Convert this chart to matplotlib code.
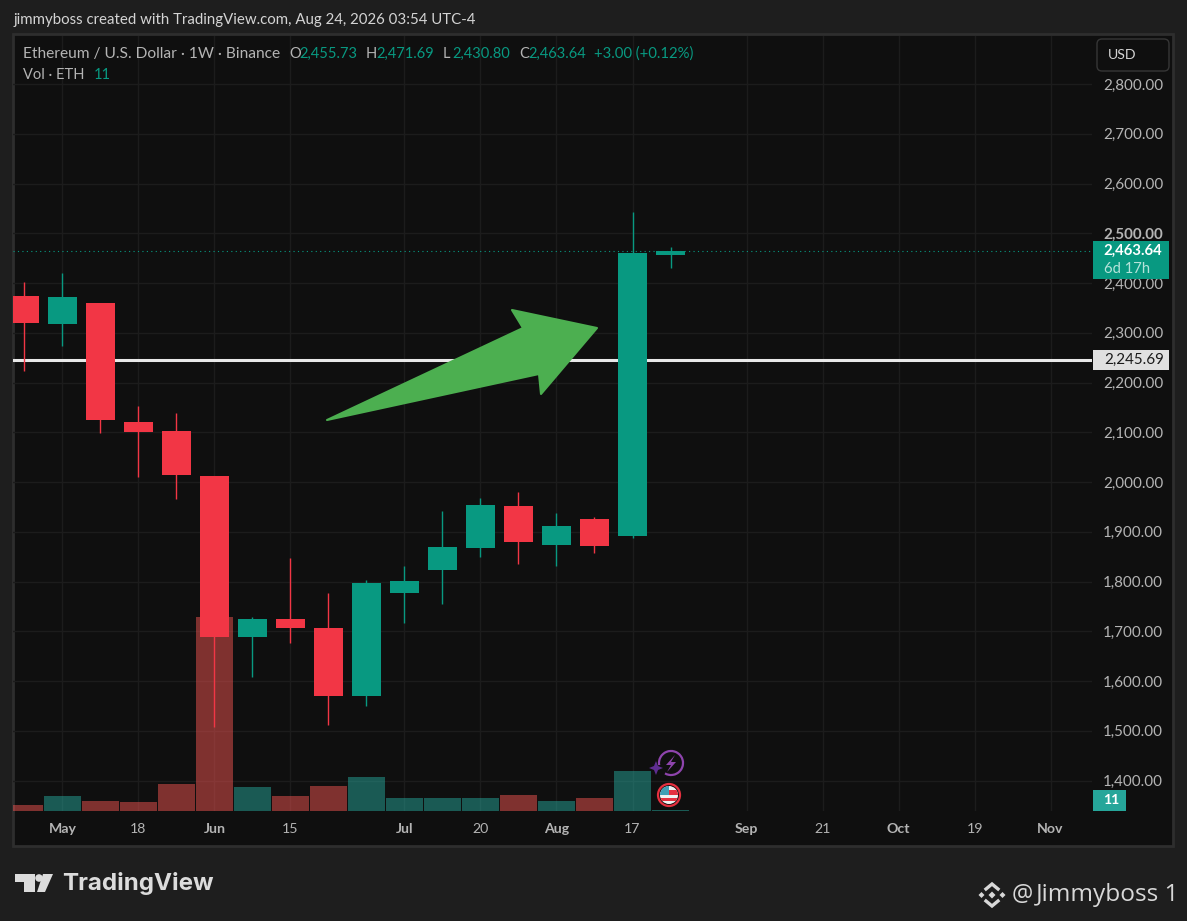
#!/usr/bin/env python3
import matplotlib
matplotlib.use("Agg")
import matplotlib.pyplot as plt
from matplotlib.patches import Rectangle, Circle, Polygon, FancyBboxPatch, Arc
from matplotlib.transforms import ScaledTranslation

plt.rcParams["font.family"] = ["Lato", "DejaVu Sans"]

# weekly candles, oldest first (first one is the week before May)
week_pos = list(range(-1, 17))
opens = [2374, 2318, 2360, 2121, 2103, 2012, 1688, 1725, 1707, 1570, 1777, 1823, 1867, 1952, 1873, 1926, 1891, 2455.73]
highs = [2402, 2420, 2360, 2153, 2139, 2012, 1729, 1847, 1777, 1803, 1831, 1942, 1968, 1980, 1938, 1930, 2543, 2471.69]
lows = [2223, 2273, 2098, 2010, 1966, 1508, 1608, 1676, 1512, 1550, 1717, 1755, 1849, 1835, 1831, 1857, 1887, 2430.80]
closes = [2320, 2372, 2125, 2100, 2014, 1688, 1725, 1707, 1570, 1797, 1801, 1869, 1954, 1879, 1912, 1871, 2460, 2463.64]
volumes = [60, 150, 100, 90, 270, 1940, 240, 150, 250, 340, 130, 130, 130, 160, 100, 130, 400, 11]

price_ticks = [2800, 2700, 2600, 2500, 2400, 2300, 2200, 2100, 2000, 1900, 1800, 1700, 1600, 1500, 1400]
time_ticks = [0, 2, 4, 6, 9, 11, 13, 15, 18, 20, 22, 24, 26]
time_labels = ["May", "18", "Jun", "15", "Jul", "20", "Aug", "17", "Sep", "21", "Oct", "19", "Nov"]
level = 2245.69
last_close = 2463.64

W, H = 1187, 921
UP, DOWN = "#089981", "#f23645"
UP_VOL, DOWN_VOL = "#26a69a", "#ef5350"
BG, PANEL, BORDER = "#1e1e1e", "#0f0f0f", "#2e2e2e"
GRID = "#1c1c1c"
TXT = "#b4b4b4"

fig = plt.figure(figsize=(W / 100, H / 100), dpi=100, facecolor=BG)


def axes_px(x0, y0, x1, y1, **kw):
    return fig.add_axes([x0 / W, 1 - y1 / H, (x1 - x0) / W, (y1 - y0) / H], **kw)


# background panel, in pixel coordinates
back = axes_px(0, 0, W, H, zorder=0)
back.set_xlim(0, W)
back.set_ylim(H, 0)
back.axis("off")
back.add_patch(Rectangle((12.5, 34), 1160.5, 811.5, fc=PANEL, ec=BORDER, lw=2))

# price axes holds grid and labels
ax = axes_px(13, 36, 1092, 811, zorder=1, facecolor="none")
ax.set_xlim(-1.30, 27.09)
ax.set_ylim(1338.7, 2896.5)
for s in ax.spines.values():
    s.set_visible(False)
ax.yaxis.tick_right()
ax.set_yticks(price_ticks)
ax.set_yticklabels([f"{p:,.2f}" for p in price_ticks], fontsize=10.9, color=TXT)
ax.set_xticks(time_ticks)
ax.set_xticklabels(time_labels, fontsize=10.2, color=TXT)
for t, lab in zip(ax.get_xticklabels(), time_labels):
    if not lab.isdigit():
        t.set_fontweight("bold")
nudge = ScaledTranslation(0, 1.5 / 100, fig.dpi_scale_trans)
for t in ax.get_yticklabels():
    t.set_transform(t.get_transform() + nudge)
ax.get_yticklabels()[price_ticks.index(2500)].set_fontweight("bold")
ax.tick_params(axis="both", length=0)
ax.tick_params(axis="y", pad=8)
ax.tick_params(axis="x", pad=8.5)
ax.grid(True, color=GRID, lw=1)
ax.set_axisbelow(True)

# volume sits under the candles
vol_ax = axes_px(13, 36, 1092, 811, zorder=2, facecolor="none", sharex=ax)
vol_ax.set_ylim(0, 7750)
vol_ax.axis("off")
vol_colors = [UP_VOL if c >= o else DOWN_VOL for o, c in zip(opens, closes)]
vol_ax.bar(week_pos, volumes, width=0.97, color=vol_colors, alpha=0.5, lw=0)

candle_ax = axes_px(13, 36, 1092, 811, zorder=3, facecolor="none", sharex=ax, sharey=ax)
candle_ax.axis("off")
colors = [UP if c >= o else DOWN for o, c in zip(opens, closes)]
bottoms = [min(o, c) for o, c in zip(opens, closes)]
heights = [abs(c - o) for o, c in zip(opens, closes)]
candle_ax.axhline(level, color="#e8e8e8", lw=2.2, zorder=1)
candle_ax.axhline(last_close, color=UP, lw=0.8, ls=(0, (1, 3)), zorder=1)
candle_ax.vlines(week_pos, lows, highs, colors=colors, lw=1, zorder=2)
candle_ax.bar(week_pos, heights, bottom=bottoms, width=0.763, color=colors, lw=0, zorder=3)

# overlay for annotations, pixel coordinates again
top = axes_px(0, 0, W, H, zorder=4, facecolor="none")
top.set_xlim(0, W)
top.set_ylim(H, 0)
top.axis("off")


def put(x, y, s, color=TXT, size=9.6, **kw):
    kw.setdefault("va", "center")
    kw.setdefault("ha", "left")
    top.text(x, y, s, color=color, fontsize=size, **kw)


# header and legend
put(14, 20, "jimmyboss created with TradingView.com, Aug 24, 2026 03:54 UTC-4", color="#d4d4d4", size=10.8)
put(23, 54, "Ethereum / U.S. Dollar · 1W · Binance", size=11.2)
for x, lab in [(289, "O"), (366, "H"), (443, "L"), (519, "C")]:
    put(x, 54, lab, size=10.5)
for x, val in [(299, "2,455.73"), (376, "2,471.69"), (452, "2,430.80"), (528, "2,463.64")]:
    put(x, 54, val, color=UP, size=10.5)
put(594, 54, "+3.00 (+0.12%)", color=UP, size=10.7)
put(23, 75, "Vol · ETH", size=10.5)
put(94, 75, "11", color=UP, size=10.5)

# USD button
top.add_patch(FancyBboxPatch((1100, 42), 66, 26, boxstyle="round,pad=3,rounding_size=5", fc=PANEL, ec="#363636", lw=1))
put(1108, 55, "USD", color="#d4d4d4", size=10.2)

# price labels on the axis
top.add_patch(Rectangle((1093, 241), 76, 38, fc=UP, lw=0))
put(1103, 251, "2,463.64", color="#ffffff", size=10.7, fontweight="bold")
put(1104, 269, "6d 17h", color="#b5e3da", size=10.7)
top.add_patch(Rectangle((1093, 350), 76, 20, fc="#e0e0e0", lw=0))
put(1104, 360, "2,245.69", color="#1a1a1a", size=10.9)
top.add_patch(Rectangle((1093, 790), 33, 21, fc=UP_VOL, lw=0))
put(1111, 800, "11", color="#ffffff", size=10.2, ha="center", fontweight="bold")

# arrow drawing
top.add_patch(Polygon([(327, 420), (523, 328), (512, 310), (597, 328), (541, 394), (539, 374)],
                      closed=True, fc="#4caf50", ec="#4caf50", lw=1.5, joinstyle="round"))

# event icons
top.add_patch(Arc((671, 763), 24, 24, theta1=170, theta2=120, color="#8e44ad", lw=1.6))
top.add_patch(Polygon([(675, 755), (666, 765), (671, 765), (667, 772), (676, 762), (671, 762)], closed=True, fc="#8e44ad", lw=0))
top.add_patch(Polygon([(656, 761), (658, 766), (663, 768), (658, 770), (656, 775), (654, 770), (649, 768), (654, 766)],
                      closed=True, fc="#5e2d91", lw=0))
flag = Circle((669, 795), 9, fc="#f0f0f0", lw=0)
top.add_patch(flag)
for r in [Rectangle((660, 786), 9, 9, fc="#3f9fb5", lw=0), Rectangle((669, 790), 9, 5, fc="#e5303f", lw=0),
          Rectangle((660, 798), 18, 2.5, fc="#e5303f", lw=0)]:
    top.add_patch(r)
    r.set_clip_path(flag)
top.add_patch(Circle((669, 795), 11, fc="none", ec="#e5303f", lw=1.6))

# TradingView logo
logo = "#dcdcdc"
top.add_patch(Polygon([(15, 874), (35, 874), (35, 892), (24, 892), (24, 882), (15, 882)], closed=True, fc=logo, lw=0))
top.add_patch(Circle((39, 878), 3.8, fc=logo, lw=0))
top.add_patch(Polygon([(43, 874), (53, 874), (45, 892), (37, 892)], closed=True, fc=logo, lw=0))
put(62, 883, "TradingView", color=logo, size=17.4, fontweight="bold", family=["Inter", "DejaVu Sans"])

# Binance mark and watermark
mark = "#d8d8d8"
for cx, cy, r in [(992, 895, 3.5), (981.5, 895, 3), (1002.5, 895, 3)]:
    top.add_patch(Polygon([(cx - r, cy), (cx, cy - r), (cx + r, cy), (cx, cy + r)], closed=True, fc=mark, lw=0))
top.plot([986, 992, 998], [889, 884, 889], color=mark, lw=2.4, solid_joinstyle="miter")
top.plot([986, 992, 998], [901, 906, 901], color=mark, lw=2.4, solid_joinstyle="miter")
put(1012, 895, "@", color=mark, size=17, family=["Open Sans", "DejaVu Sans"])
put(1036, 895, "Jimmyboss 1", color=mark, size=17.6, family=["Open Sans", "DejaVu Sans"])

fig.savefig("out.png", dpi=100, facecolor=BG)
